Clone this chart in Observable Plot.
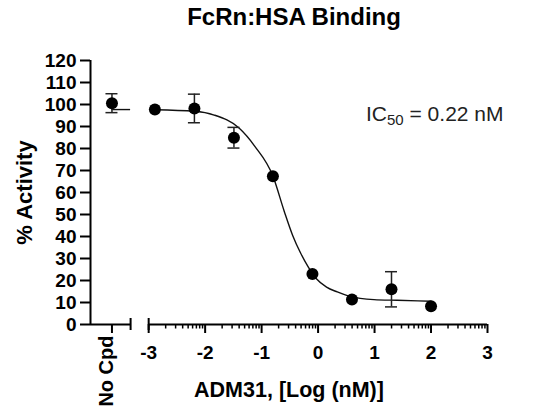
<!DOCTYPE html>
<html><head><meta charset="utf-8">
<script src="https://cdn.jsdelivr.net/npm/d3@7"></script>
<script src="https://cdn.jsdelivr.net/npm/@observablehq/plot@0.6"></script>
<style>body{margin:0;background:#fff}</style>
</head><body><div id="chart"></div>
<script>
// Measured data (log10 nM) and % activity
const logConc     = [-2.89, -2.19, -1.49, -0.80, -0.10, 0.60, 1.30, 2.00];
const activity    = [97.7, 98.2, 84.9, 67.4, 23.0, 11.4, 16.0, 8.3];
const activityErr = [0, 6.5, 4.7, 0, 0, 0, 8.0, 0];

// "No Cpd" control, placed on the broken part of the x axis
const noCpdLabel = "No Cpd";
const noCpdActivity = 100.6;
const noCpdErr = 4.3;
const noCpdTop = 97.7;

// Fitted curve
const fitX = [-2.89, -2.19, -1.84, -1.40, -1.12, -0.80, -0.60, -0.45, -0.31, -0.17, -0.03, 0.15, 0.34, 0.56, 0.99, 1.40, 2.00];
const fitY = [97.6, 96.9, 95.2, 89.3, 81.0, 67.5, 51.5, 40.5, 32.5, 26.0, 20.8, 17.0, 14.8, 12.8, 11.3, 11.0, 10.6];

// Axis ticks
const yTicks = [0, 10, 20, 30, 40, 50, 60, 70, 80, 90, 100, 110, 120];
const xTicks = [-3, -2, -1, 0, 1, 2, 3];
const minorTicks = xTicks.slice(0, -1).flatMap(n => [2,3,4,5,6,7,8,9].map(k => n + Math.log10(k)));

// Broken axis layout (positions on the x scale)
const xDomain = [-4.03, 3];
const noCpdX = -3.65;
const firstSegEnd = -3.32;

const titleText = "FcRn:HSA Binding";
const xLabel = "ADM31, [Log (nM)]";
const yLabel = "% Activity";
const ic50Text = "IC50 = 0.22 nM";

const points = logConc.map((x, i) => ({x, y: activity[i], e: activityErr[i]}));
const errPoints = points.filter(d => d.e > 0);
const noCpd = [{x: noCpdX, y: noCpdActivity, e: noCpdErr}];
const fit = fitX.map((x, i) => ({x, y: fitY[i]}));
const segments = [{x1: xDomain[0], x2: firstSegEnd}, {x1: xTicks[0], x2: xTicks[xTicks.length - 1]}];

const font = "Liberation Sans, Arial, Helvetica, sans-serif";

const chart = Plot.plot({
  width: 545,
  height: 415,
  marginTop: 60,
  marginBottom: 91,
  marginLeft: 90,
  marginRight: 58,
  x: {domain: xDomain, axis: null},
  y: {domain: [0, 120], axis: null},
  style: {fontFamily: font, fontWeight: "bold", fontSize: "19px", color: "#000", background: "#fff", overflow: "visible"},
  marks: [
    // axes
    Plot.ruleX([xDomain[0]], {x: d => d, y1: 0, y2: 120, strokeWidth: 2}),
    Plot.axisY({ticks: yTicks, tickSize: 10, tickPadding: 4, strokeWidth: 2, label: null, fontSize: 19}),
    Plot.ruleY(segments, {y: 0, x1: "x1", x2: "x2", strokeWidth: 2}),
    Plot.ruleX([firstSegEnd, xTicks[0]], {x: d => d, y1: 0, y2: 0, insetTop: 6, insetBottom: 6, strokeWidth: 2}),
    Plot.ruleX([noCpdX], {x: d => d, y1: 0, y2: 0, insetTop: 0, insetBottom: -9, strokeWidth: 2}),
    Plot.axisX({ticks: xTicks, tickSize: 9, tickPadding: 12, strokeWidth: 2, tickFormat: d => String(d), label: null, fontSize: 19}),
    Plot.axisX({ticks: minorTicks, tickSize: 4.5, strokeWidth: 1.5, tickFormat: () => "", label: null}),
    // No Cpd label
    Plot.text([noCpdLabel], {x: noCpdX, y: 0, text: d => d, rotate: -90, textAnchor: "end", lineAnchor: "middle", dx: -5, dy: 11, fontSize: 20}),
    // fitted curve
    Plot.line(fit, {x: "x", y: "y", curve: "monotone-x", strokeWidth: 1.4, stroke: "#111"}),
    Plot.ruleY([{x1: noCpdX, x2: firstSegEnd, y: noCpdTop}], {y: "y", x1: "x1", x2: "x2", strokeWidth: 1.4, stroke: "#111"}),
    // error bars
    Plot.ruleX(errPoints.concat(noCpd), {x: "x", y1: d => d.y - d.e, y2: d => d.y + d.e, strokeWidth: 1.5, stroke: "#222"}),
    Plot.ruleY(errPoints.concat(noCpd), {y: d => d.y + d.e, x1: "x", x2: "x", insetLeft: -6, insetRight: -6, strokeWidth: 1.5, stroke: "#222"}),
    Plot.ruleY(errPoints.concat(noCpd), {y: d => d.y - d.e, x1: "x", x2: "x", insetLeft: -6, insetRight: -6, strokeWidth: 1.5, stroke: "#222"}),
    // points
    Plot.dot(points.concat(noCpd), {x: "x", y: "y", r: 6, fill: "#000", stroke: "none"}),
    // texts
    Plot.text([titleText], {frameAnchor: "top", text: d => d, textAnchor: "middle", lineAnchor: "middle", dy: -43, dx: 5, fontSize: 24}),
    Plot.text([xLabel], {frameAnchor: "bottom", text: d => d, textAnchor: "middle", lineAnchor: "middle", dy: 66, fontSize: 21.5}),
    Plot.text([yLabel], {frameAnchor: "left", text: d => d, rotate: -90, textAnchor: "middle", lineAnchor: "middle", dx: -66, fontSize: 22}),
    Plot.text([ic50Text], {frameAnchor: "top-right", text: d => d, textAnchor: "end", lineAnchor: "middle", dx: 16, dy: 53.6, fontSize: 21, fontWeight: "normal", fill: "#222"})
  ]
});

// subscript for IC50
chart.querySelectorAll("text").forEach(t => {
  if (t.textContent === ic50Text) {
    t.innerHTML = 'IC<tspan font-size="15" dy="4">50</tspan><tspan dy="-4"> = 0.22 nM</tspan>';
  }
});

document.getElementById("chart").appendChild(chart);
</script>
</body></html>
